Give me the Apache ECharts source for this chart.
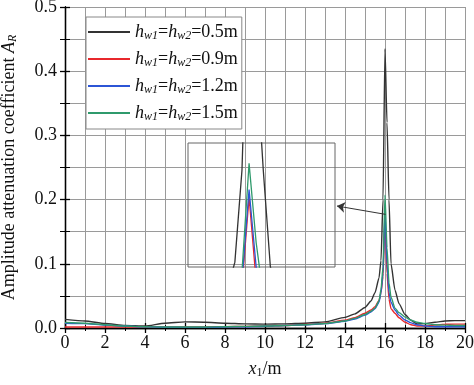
<!DOCTYPE html>
<html><head><meta charset="utf-8">
<script src="https://cdn.jsdelivr.net/npm/echarts@6/dist/echarts.min.js"></script>
<style>html,body{margin:0;padding:0;background:#fff}#c{width:474px;height:385px}</style>
</head><body><div id="c"></div>
<script>
const xs = [0,1,2,3,4,5,6,7,8,9,10,11,12,13,14,14.5,15,15.3,15.5,15.7,15.8,15.9,16.0,16.1,16.2,16.3,16.5,16.7,17,17.3,17.6,18,18.5,19,19.5,20];
const y05 = [0.0135,0.011,0.007,0.004,0.003,0.0075,0.0095,0.009,0.0075,0.0065,0.006,0.0065,0.0075,0.0095,0.0165,0.022,0.032,0.042,0.055,0.078,0.105,0.2,0.435,0.32,0.2,0.1,0.059,0.038,0.021,0.012,0.0065,0.0068,0.009,0.011,0.0115,0.0115];
const y09 = [0.0015,0.0015,0.0015,0.0015,0.0015,0.0015,0.0015,0.0018,0.002,0.0025,0.003,0.004,0.0055,0.0075,0.012,0.016,0.023,0.028,0.033,0.043,0.055,0.08,0.172,0.085,0.045,0.03,0.023,0.016,0.009,0.005,0.003,0.003,0.0045,0.0058,0.006,0.006];
const y12 = [0.0075,0.0068,0.0045,0.003,0.0018,0.0012,0.001,0.001,0.0015,0.002,0.0028,0.0038,0.005,0.0068,0.0105,0.014,0.02,0.025,0.03,0.04,0.055,0.085,0.18,0.1,0.055,0.04,0.028,0.02,0.0125,0.008,0.005,0.003,0.002,0.002,0.002,0.002];
const y15 = [0.0085,0.0075,0.005,0.003,0.002,0.0015,0.0015,0.0015,0.002,0.0025,0.003,0.004,0.005,0.007,0.011,0.015,0.021,0.026,0.031,0.042,0.06,0.095,0.207,0.125,0.07,0.048,0.031,0.024,0.017,0.012,0.009,0.007,0.005,0.0045,0.004,0.004];
const seriesNames = ['0.5m','0.9m','1.2m','1.5m'];
const seriesColors = ['#333333','#e8282c','#2c55d6','#2f9a6c'];
const seriesData = [y05,y09,y12,y15];
const xTicks = [0,2,4,6,8,10,12,14,16,18,20];
const yTicks = [0.0,0.1,0.2,0.3,0.4,0.5];
const arrowFrom = [16.03, 0.177];
const arrowTo = [13.6, 0.19];

const FF = '"Liberation Serif","Times New Roman",serif';
const gridColor = '#9a9a9a';
const pairs = d => xs.map((x,i)=>[x,d[i]]);

const mainSeries = seriesData.map((d,i)=>({
  type:'line', name:seriesNames[i], data:pairs(d), xAxisIndex:0, yAxisIndex:0,
  showSymbol:false, symbol:'none', smooth:0.2, smoothMonotone:'x',
  lineStyle:{color:seriesColors[i], width:1.4}, itemStyle:{color:seriesColors[i]}, z:3+i
}));
const insetSeries = seriesData.map((d,i)=>({
  type:'line', name:seriesNames[i], data:pairs(d), xAxisIndex:2, yAxisIndex:2,
  showSymbol:false, symbol:'none', clip:true, silent:true,
  lineStyle:{color:seriesColors[i], width:1.3}, itemStyle:{color:seriesColors[i]}, z:3+i
}));

const chart = echarts.init(document.getElementById('c'), null, {renderer:'canvas'});
chart.setOption({
  animation:false,
  backgroundColor:'#fff',
  grid:[
    {left:65, right:9, top:7, bottom:57, show:false, containLabel:false, outerBoundsMode:'none'},
    {left:188, top:143, width:147, height:124, show:true, borderColor:'#666', borderWidth:1, backgroundColor:'transparent', z:2, containLabel:false, outerBoundsMode:'none'}
  ],
  legend:{
    left:86, top:17, orient:'vertical', data:seriesNames,
    icon:'rect', itemWidth:42, itemHeight:2,
    backgroundColor:'#fff', borderColor:'#888', borderWidth:1, borderRadius:0,
    padding:[6,4,6,2], itemGap:8,
    textStyle:{fontFamily:FF, fontSize:18, color:'#111',
      rich:{
        h:{fontFamily:FF, fontSize:18, fontStyle:'italic', color:'#111'},
        s:{fontFamily:FF, fontSize:12, fontStyle:'italic', color:'#111', verticalAlign:'bottom', padding:[8,0,0,0]},
        t:{fontFamily:FF, fontSize:18, color:'#111'}
      }},
    formatter: n => '{h|h}{s|w1}{t|=}{h|h}{s|w2}{t|=' + n + '}'
  },
  xAxis:[
    {type:'value', gridIndex:0, min:0, max:20, interval:2, position:'bottom',
      axisLine:{show:true, lineStyle:{color:'#000', width:1.3}},
      axisTick:{show:true, inside:true, length:5, lineStyle:{color:'#000', width:1.3}},
      minorTick:{show:true, splitNumber:2, length:3, lineStyle:{color:'#000'}},
      splitLine:{show:true, lineStyle:{color:gridColor, width:1}},
      minorSplitLine:{show:true, lineStyle:{color:gridColor, width:1}},
      axisLabel:{fontFamily:FF, fontSize:18, color:'#111', margin:6,
        formatter: v => xTicks.includes(v) ? String(v) : ''},
      name:'{i|x}{s|1}{t|/m}', nameLocation:'middle', nameGap:31,
      nameTextStyle:{fontFamily:FF, fontSize:18, color:'#111', rich:{
        i:{fontFamily:FF, fontSize:18, fontStyle:'italic', color:'#111'},
        s:{fontFamily:FF, fontSize:12, color:'#111', verticalAlign:'bottom', padding:[8,0,0,0]},
        t:{fontFamily:FF, fontSize:18, color:'#111'}}}
    },
    {type:'value', gridIndex:0, min:0, max:20, interval:2, position:'top',
      axisLine:{show:true, lineStyle:{color:'#000', width:1.3}},
      axisTick:{show:true, inside:true, length:5, lineStyle:{color:'#000', width:1.3}},
      minorTick:{show:true, splitNumber:2, length:3, lineStyle:{color:'#000'}},
      splitLine:{show:false}, axisLabel:{show:false}},
    {type:'value', gridIndex:1, min:15.14, max:17.21, show:false, splitLine:{show:false}}
  ],
  yAxis:[
    {type:'value', gridIndex:0, min:0, max:0.5, interval:0.1, position:'left',
      axisLine:{show:true, lineStyle:{color:'#000', width:1.3}},
      axisTick:{show:true, inside:true, length:5, lineStyle:{color:'#000', width:1.3}},
      minorTick:{show:true, splitNumber:2, length:5, lineStyle:{color:'#000'}},
      splitLine:{show:true, lineStyle:{color:gridColor, width:1}},
      minorSplitLine:{show:true, lineStyle:{color:gridColor, width:1}},
      axisLabel:{fontFamily:FF, fontSize:18, color:'#111', margin:8,
        formatter: v => { const t = yTicks.find(k=>Math.abs(k-v)<1e-9); return t===undefined ? '' : t.toFixed(1); }},
      name:'Amplitude attenuation coefficient {a|A}{r|R}', nameLocation:'middle', nameGap:46, nameRotate:90,
      nameTextStyle:{fontFamily:FF, fontSize:18, color:'#111', rich:{
        a:{fontFamily:FF, fontSize:18, fontStyle:'italic', color:'#111'},
        r:{fontFamily:FF, fontSize:12, fontStyle:'italic', color:'#111', verticalAlign:'bottom', padding:[8,0,0,0]}}}
    },
    {type:'value', gridIndex:0, min:0, max:0.5, interval:0.1, position:'right',
      axisLine:{show:true, lineStyle:{color:'#000', width:1.3}},
      axisTick:{show:true, inside:true, length:5, lineStyle:{color:'#000', width:1.3}},
      minorTick:{show:true, splitNumber:2, length:5, lineStyle:{color:'#000'}},
      splitLine:{show:false}, axisLabel:{show:false}},
    {type:'value', gridIndex:1, min:0.1, max:0.228, show:false, splitLine:{show:false}}
  ],
  series: mainSeries.concat(insetSeries).concat([{
    type:'lines', coordinateSystem:'cartesian2d', xAxisIndex:0, yAxisIndex:0, silent:true,
    symbol:['none','arrow'], symbolSize:[0,8],
    lineStyle:{color:'#333', width:1, opacity:1},
    data:[{coords:[arrowFrom, arrowTo]}], z:10
  }])
});
</script></body></html>
